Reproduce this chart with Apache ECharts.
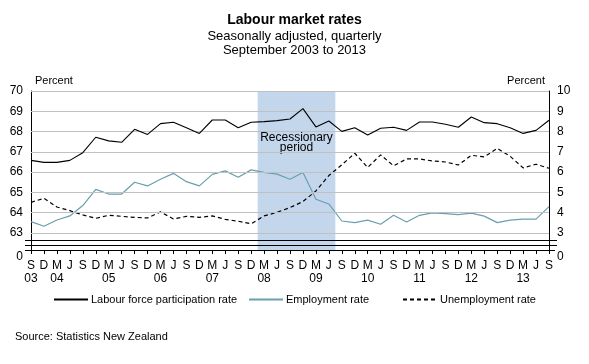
<!DOCTYPE html>
<html>
<head>
<meta charset="utf-8">
<script src="https://cdn.jsdelivr.net/npm/echarts@6/dist/echarts.min.js"></script>
<style>
  html, body { margin: 0; padding: 0; background: #fff; }
  #chart { width: 589px; height: 364px; }
</style>
</head>
<body>
<div id="chart"></div>
<script>
// quarters Sep 2003 .. Sep 2013
var quarterLabels = ['S','D','M','J','S','D','M','J','S','D','M','J','S','D','M','J','S','D','M','J','S',
                     'D','M','J','S','D','M','J','S','D','M','J','S','D','M','J','S','D','M','J','S'];
var yearLabels = ['03','','04','','','','05','','','','06','','','','07','','','','08','','',
                  '','09','','','','10','','','','11','','','','12','','','','13','',''];

var lfpRate = [66.58,66.48,66.48,66.58,66.96,67.72,67.54,67.47,68.11,67.86,68.39,68.46,68.19,67.91,
               68.57,68.57,68.19,68.46,68.49,68.54,68.62,69.13,68.23,68.52,68.01,68.19,67.83,
               68.16,68.21,68.06,68.47,68.47,68.36,68.21,68.72,68.44,68.39,68.19,67.91,68.06,68.56];
var empRate = [63.56,63.33,63.64,63.84,64.35,65.15,64.92,64.92,65.5,65.32,65.65,65.94,65.53,65.32,
               65.89,66.06,65.75,66.11,65.99,65.9,65.65,65.98,64.66,64.43,63.59,63.51,63.63,
               63.43,63.87,63.54,63.87,63.99,63.95,63.9,63.98,63.83,63.51,63.63,63.68,63.68,64.3];
var unempRate = [4.51,4.71,4.28,4.1,3.89,3.72,3.87,3.82,3.77,3.74,4.04,3.69,3.82,3.77,
                 3.84,3.67,3.58,3.45,3.84,4.02,4.25,4.55,5.07,5.83,6.36,6.93,6.23,
                 6.85,6.31,6.65,6.65,6.55,6.5,6.35,6.83,6.75,7.17,6.78,6.21,6.39,6.19];

var leftTicks = [63, 64, 65, 66, 67, 68, 69, 70];
var rightTicks = [3, 4, 5, 6, 7, 8, 9, 10];
var recession = [17.5, 23.5]; // Mar 2008 .. Jun 2009

var leftMin = 62.16, rightMin = 2.16; // bottom of the broken axis, labelled 0
var breakVals = [62.64, 62.41];

var font = 'Liberation Sans, Arial, sans-serif';

function pairs(arr) {
  return arr.map(function (v, i) { return [i, v]; });
}

var myChart = echarts.init(document.getElementById('chart'));

var yLabel = function (min) {
  return function (v) {
    if (Math.abs(v - min) < 0.001) return '{z|0}';
    return String(Math.round(v));
  };
};

var option = {
  animation: false,
  textStyle: { fontFamily: font },
  title: [{
    text: 'Labour market rates',
    subtext: 'Seasonally adjusted, quarterly\nSeptember 2003 to 2013',
    left: 'center',
    top: 8,
    itemGap: 2,
    textStyle: { fontFamily: font, fontSize: 14, fontWeight: 'bold', color: '#000' },
    subtextStyle: { fontFamily: font, fontSize: 13, color: '#000', lineHeight: 14 }
  }, {
    text: 'Source: Statistics New Zealand',
    left: 10,
    top: 326,
    textStyle: { fontFamily: font, fontSize: 11, fontWeight: 'normal', color: '#000' }
  }],
  legend: [
    { data: ['Labour force participation rate'], left: 53, top: 294 },
    { data: ['Employment rate'], left: 248, top: 294 },
    { data: ['Unemployment rate'], left: 402, top: 294 }
  ].map(function (l) {
    l.itemWidth = 34;
    l.itemHeight = 10;
    l.itemGap = 0;
    l.padding = 0;
    l.itemStyle = { opacity: 0 };
    l.textStyle = { fontFamily: font, fontSize: 11, color: '#000', padding: [0, 0, 0, -2] };
    return l;
  }),
  grid: { left: 31, right: 40, top: 91, bottom: 114 },
  xAxis: {
    type: 'value',
    min: 0,
    max: quarterLabels.length - 1,
    interval: 1,
    splitLine: { show: false },
    axisLine: { lineStyle: { color: '#000', width: 1 } },
    axisTick: { show: true, length: 4, lineStyle: { color: '#000' } },
    axisLabel: {
      color: '#000',
      fontSize: 12,
      margin: 9,
      lineHeight: 13,
      formatter: function (v) {
        var q = quarterLabels[v];
        var y = yearLabels[v];
        return y ? q + '\n' + y : q;
      }
    }
  },
  yAxis: [{
    type: 'value',
    min: leftMin,
    max: 70,
    position: 'left',
    name: 'Percent',
    nameLocation: 'end',
    nameGap: 5,
    nameTextStyle: { fontFamily: font, fontSize: 11, color: '#000', align: 'left', padding: [0, 0, 0, 4] },
    axisLine: { show: true, lineStyle: { color: '#000', width: 1 } },
    axisTick: { show: false },
    splitLine: { show: false },
    axisLabel: {
      customValues: [leftMin].concat(leftTicks),
      color: '#000',
      fontSize: 12,
      margin: 8,
      formatter: yLabel(leftMin),
      rich: { z: { fontSize: 12, color: '#000', padding: [13, 0, 0, 0] } }
    }
  }, {
    type: 'value',
    min: rightMin,
    max: 10,
    position: 'right',
    name: 'Percent',
    nameLocation: 'end',
    nameGap: 5,
    nameTextStyle: { fontFamily: font, fontSize: 11, color: '#000', align: 'right', padding: [0, 4, 0, 0] },
    axisLine: { show: true, lineStyle: { color: '#000', width: 1 } },
    axisTick: { show: false },
    splitLine: { show: false },
    axisLabel: {
      customValues: [rightMin].concat(rightTicks),
      color: '#000',
      fontSize: 12,
      margin: 8,
      formatter: yLabel(rightMin),
      rich: { z: { fontSize: 12, color: '#000', padding: [13, 0, 0, 0] } }
    }
  }],
  series: [{
    name: 'Labour force participation rate',
    type: 'line',
    yAxisIndex: 0,
    symbol: 'none',
    z: 5,
    lineStyle: { color: '#000', width: 1.1 },
    itemStyle: { color: '#000' },
    data: pairs(lfpRate),
    markArea: {
      silent: true,
      itemStyle: { color: 'rgba(157,187,223,0.6)' },
      label: {
        show: true,
        position: 'insideTop',
        distance: 42,
        color: '#000',
        fontFamily: font,
        fontSize: 12,
        lineHeight: 10,
        formatter: 'Recessionary\nperiod'
      },
      data: [[{ xAxis: recession[0] }, { xAxis: recession[1] }]]
    }
  }, {
    // horizontal gridlines of the upper part of the broken axis
    name: 'grid',
    type: 'line',
    yAxisIndex: 0,
    data: [],
    z: 1,
    silent: true,
    markLine: {
      silent: true,
      symbol: 'none',
      label: { show: false },
      lineStyle: { color: '#c0c0c0', width: 1, type: 'solid' },
      data: leftTicks.map(function (t) { return { yAxis: t }; })
    }
  }, {
    name: 'Employment rate',
    type: 'line',
    yAxisIndex: 0,
    symbol: 'none',
    z: 4,
    lineStyle: { color: '#6a9fae', width: 1.2 },
    itemStyle: { color: '#6a9fae' },
    data: pairs(empRate)
  }, {
    name: 'Unemployment rate',
    type: 'line',
    yAxisIndex: 1,
    symbol: 'none',
    z: 4,
    lineStyle: { color: '#000', width: 1.2, type: [4, 3] },
    itemStyle: { color: '#000' },
    data: pairs(unempRate)
  }]
};

myChart.setOption(option);

// axis break marks: two horizontal rules slightly wider than the plot,
// plus the short outward ticks at the 0 level on both value axes
var gridRect = myChart.getModel().getComponent('grid').coordinateSystem.getRect();
var x0 = gridRect.x, x1 = gridRect.x + gridRect.width;
var deco = breakVals.map(function (v) {
  var y = Math.round(myChart.convertToPixel({ yAxisIndex: 0 }, v)) + 0.5;
  return {
    type: 'line',
    shape: { x1: x0 - 6, y1: y, x2: x1 + 8, y2: y },
    style: { stroke: '#000', lineWidth: 1.2 },
    z: 10
  };
});
var yZero = Math.round(myChart.convertToPixel({ yAxisIndex: 0 }, leftMin)) + 0.5;
deco.push({ type: 'line', shape: { x1: x0 - 6, y1: yZero, x2: x0, y2: yZero }, style: { stroke: '#000', lineWidth: 1 }, z: 10 });
deco.push({ type: 'line', shape: { x1: x1, y1: yZero, x2: x1 + 6, y2: yZero }, style: { stroke: '#000', lineWidth: 1 }, z: 10 });
myChart.setOption({ graphic: deco });
</script>
</body>
</html>
